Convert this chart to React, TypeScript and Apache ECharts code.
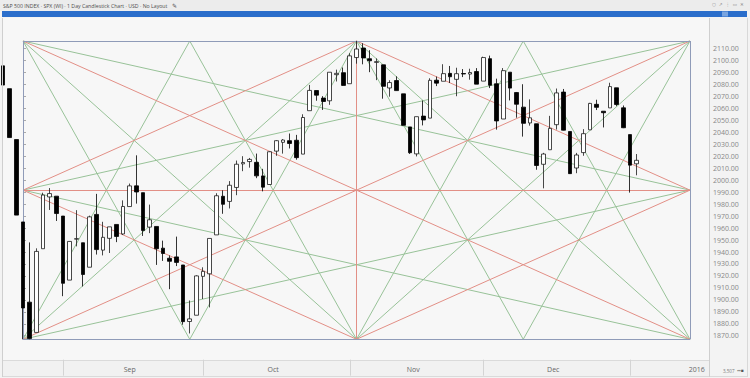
import React, { useEffect, useRef } from "react";
import * as echarts from "echarts";

// S&P 500 daily sessions shown, Aug 19 2015 .. Jan 5 2016
const dates = [
  "2015-08-19", "2015-08-20", "2015-08-21", "2015-08-24", "2015-08-25", "2015-08-26", "2015-08-27", "2015-08-28", "2015-08-31",
  "2015-09-01", "2015-09-02", "2015-09-03", "2015-09-04", "2015-09-08", "2015-09-09", "2015-09-10", "2015-09-11",
  "2015-09-14", "2015-09-15", "2015-09-16", "2015-09-17", "2015-09-18", "2015-09-21", "2015-09-22", "2015-09-23",
  "2015-09-24", "2015-09-25", "2015-09-28", "2015-09-29", "2015-09-30",
  "2015-10-01", "2015-10-02", "2015-10-05", "2015-10-06", "2015-10-07", "2015-10-08", "2015-10-09", "2015-10-12",
  "2015-10-13", "2015-10-14", "2015-10-15", "2015-10-16", "2015-10-19", "2015-10-20", "2015-10-21", "2015-10-22",
  "2015-10-23", "2015-10-26", "2015-10-27", "2015-10-28", "2015-10-29", "2015-10-30",
  "2015-11-02", "2015-11-03", "2015-11-04", "2015-11-05", "2015-11-06", "2015-11-09", "2015-11-10", "2015-11-11",
  "2015-11-12", "2015-11-13", "2015-11-16", "2015-11-17", "2015-11-18", "2015-11-19", "2015-11-20", "2015-11-23",
  "2015-11-24", "2015-11-25", "2015-11-27", "2015-11-30",
  "2015-12-01", "2015-12-02", "2015-12-03", "2015-12-04", "2015-12-07", "2015-12-08", "2015-12-09", "2015-12-10",
  "2015-12-11", "2015-12-14", "2015-12-15", "2015-12-16", "2015-12-17", "2015-12-18", "2015-12-21", "2015-12-22",
  "2015-12-23", "2015-12-24", "2015-12-28", "2015-12-29", "2015-12-30", "2015-12-31",
  "2016-01-04", "2016-01-05",
];
const opens = [
  2095.69, 2076.61, 2034.08, 1965.15, 1898.08, 1872.75, 1942.77, 1986.06, 1986.73,
  1970.09, 1916.52, 1950.79, 1947.76, 1927.3, 1971.45, 1941.59, 1951.45,
  1963.06, 1955.1, 1978.02, 1995.33, 1989.66, 1960.84, 1961.39, 1943.24,
  1934.81, 1935.93, 1929.18, 1881.9, 1887.14,
  1919.65, 1921.77, 1954.33, 1986.63, 1982.34, 1994.01, 2013.73, 2015.65,
  2015.0, 2003.66, 1996.47, 2024.37, 2031.73, 2033.13, 2033.47, 2021.88,
  2058.19, 2075.08, 2068.75, 2066.48, 2088.35, 2090.0,
  2080.76, 2102.63, 2110.6, 2101.68, 2098.6, 2096.56, 2077.19, 2083.41,
  2072.29, 2044.64, 2022.08, 2053.67, 2051.99, 2083.7, 2082.82, 2089.41,
  2084.42, 2089.3, 2088.82, 2090.95,
  2082.93, 2101.71, 2080.71, 2051.24, 2090.42, 2073.39, 2061.17, 2047.93,
  2047.27, 2013.37, 2025.55, 2046.5, 2073.76, 2040.81, 2010.27, 2023.15,
  2042.2, 2063.52, 2057.77, 2060.54, 2077.34, 2060.59,
  2038.2, 2013.78,
];
const highs = [
  2096.17, 2076.61, 2034.08, 1965.15, 1948.04, 1943.09, 1989.6, 1993.48, 1986.73,
  1970.09, 1948.91, 1975.01, 1947.76, 1970.42, 1988.63, 1965.29, 1961.05,
  1963.06, 1983.19, 1997.26, 2020.86, 1989.66, 1979.64, 1961.39, 1949.52,
  1937.17, 1952.89, 1929.18, 1899.48, 1920.53,
  1927.21, 1951.36, 1989.17, 1991.62, 1999.31, 2016.5, 2020.13, 2018.66,
  2022.34, 2009.56, 2024.15, 2033.54, 2034.45, 2039.12, 2037.97, 2055.2,
  2079.74, 2075.14, 2070.37, 2090.35, 2092.52, 2094.32,
  2106.2, 2116.48, 2114.59, 2108.78, 2101.91, 2096.56, 2083.67, 2086.94,
  2072.29, 2044.64, 2053.22, 2066.69, 2085.31, 2086.74, 2097.06, 2095.61,
  2094.12, 2093.0, 2093.29, 2093.81,
  2103.37, 2104.27, 2085.0, 2093.84, 2090.42, 2073.85, 2080.33, 2067.65,
  2047.27, 2022.92, 2053.87, 2076.72, 2076.37, 2040.81, 2022.9, 2042.74,
  2064.73, 2067.36, 2057.77, 2081.56, 2077.34, 2062.54,
  2038.2, 2021.94,
];
const lows = [
  2070.53, 2035.73, 1970.89, 1867.01, 1867.08, 1872.75, 1942.77, 1975.19, 1965.98,
  1903.07, 1916.52, 1944.72, 1911.21, 1927.3, 1937.88, 1937.19, 1939.19,
  1948.27, 1954.3, 1977.93, 1980.48, 1953.45, 1955.8, 1929.22, 1932.57,
  1908.92, 1928.25, 1879.21, 1871.91, 1887.14,
  1900.7, 1893.7, 1954.33, 1971.99, 1976.44, 1987.53, 2007.61, 2010.55,
  2001.78, 1990.73, 1996.47, 2020.46, 2022.31, 2026.61, 2017.22, 2021.88,
  2058.19, 2066.53, 2058.84, 2063.11, 2082.63, 2079.05,
  2080.76, 2097.51, 2096.98, 2090.41, 2083.74, 2068.24, 2069.91, 2074.85,
  2045.66, 2022.02, 2019.94, 2045.9, 2051.99, 2078.76, 2082.82, 2081.39,
  2070.29, 2086.3, 2084.13, 2080.41,
  2082.93, 2077.11, 2042.35, 2051.24, 2066.78, 2052.32, 2036.53, 2045.67,
  2008.8, 1993.26, 2025.55, 2042.43, 2041.66, 2005.33, 2005.93, 2020.49,
  2042.2, 2058.73, 2044.2, 2060.54, 2061.97, 2043.62,
  1989.68, 2004.17,
];
const closes = [
  2079.61, 2035.73, 1970.89, 1893.21, 1867.61, 1940.51, 1987.66, 1988.87, 1972.18,
  1913.85, 1948.86, 1951.13, 1921.22, 1969.41, 1942.04, 1952.29, 1961.05,
  1953.03, 1978.09, 1995.31, 1990.2, 1958.03, 1966.97, 1942.74, 1938.76,
  1932.24, 1931.34, 1881.77, 1884.09, 1920.03,
  1923.82, 1951.36, 1987.05, 1979.92, 1995.83, 2013.43, 2014.89, 2017.46,
  2003.69, 1994.24, 2023.86, 2033.11, 2033.66, 2030.77, 2018.94, 2052.51,
  2075.15, 2071.18, 2065.89, 2090.35, 2089.41, 2079.36,
  2104.05, 2109.79, 2102.31, 2099.93, 2099.2, 2078.58, 2081.72, 2075.0,
  2045.97, 2023.04, 2053.19, 2050.44, 2083.58, 2081.24, 2089.17, 2086.59,
  2089.14, 2088.87, 2090.11, 2080.41,
  2102.63, 2079.51, 2049.62, 2091.69, 2077.07, 2063.59, 2047.62, 2052.23,
  2012.37, 2021.94, 2043.41, 2073.07, 2041.89, 2005.55, 2021.15, 2038.97,
  2064.29, 2060.99, 2056.5, 2078.36, 2063.36, 2043.94,
  2012.66, 2016.71,
];
// session index of the first shown candle (0 = Aug 24, the Gann box low)
const firstSession = -3;

// bottom time axis (session index)
const monthLabels = ["Sep", "Oct", "Nov", "Dec", "2016"];
const monthLabelSessions = [16, 37.5, 58.5, 79.5, 101];
const monthStartSessions = [6, 27, 49, 69, 91];

// right price axis labels
const priceTicks = [
  1870, 1880, 1890, 1900, 1910, 1920, 1930, 1940, 1950, 1960, 1970, 1980, 1990,
  2000, 2010, 2020, 2030, 2040, 2050, 2060, 2070, 2080, 2090, 2100, 2110,
];

// Gann square anchors: Aug 24 low .. twice the distance to the Nov 3 high
const boxStartSession = 0;
const boxEndSession = 100;
const boxLow = 1867.01;
const boxHigh = 2116.48;

// segments in box fractions [timeFrac1, priceFrac1, timeFrac2, priceFrac2]
const redSegments = [
  [0, 1, 1, 0], [0, 0, 1, 1],
  [0, 0.5, 0.5, 1], [0.5, 1, 1, 0.5], [1, 0.5, 0.5, 0], [0.5, 0, 0, 0.5],
  [0, 0.5, 1, 0.5], [0.5, 0, 0.5, 1],
];
const greenSegments = [
  [0, 1, 1, 0.5], [0, 0, 1, 0.5], [1, 1, 0, 0.5], [1, 0, 0, 0.5],
  [0, 1, 0.5, 0], [0, 0, 0.5, 1], [1, 1, 0.5, 0], [1, 0, 0.5, 1],
  [0, 1, 0.25, 0], [0.25, 0, 0.5, 1], [0.5, 1, 0.75, 0], [0.75, 0, 1, 1],
  [0, 0, 0.25, 1], [0.25, 1, 0.5, 0], [0.5, 0, 0.75, 1], [0.75, 1, 1, 0],
];
const boxSegments = [
  [0, 0, 1, 0], [1, 0, 1, 1], [1, 1, 0, 1], [0, 1, 0, 0],
];

const FONT = '"Open Sans", "Noto Sans", sans-serif';

function toCoords(seg: number[]) {
  const t = (f: number) => boxStartSession + f * (boxEndSession - boxStartSession);
  const p = (f: number) => boxLow + f * (boxHigh - boxLow);
  return { coords: [[t(seg[0]), p(seg[1])], [t(seg[2]), p(seg[3])]] };
}

export default function App() {
  const ref = useRef<HTMLDivElement>(null);
  useEffect(() => {
    if (!ref.current) return;
    const chart = echarts.init(ref.current, undefined, { renderer: "svg" });
    const candleData = dates.map((_, i) => [firstSession + i, opens[i], closes[i], lows[i], highs[i]]);

    const gridLeft = 2;
    const gridRight = 41;
    const pxPerUnit = 1.1957;
    const yMin = 1850;
    const yMax = 2140;
    const gridTop = 41 - (yMax - boxHigh) * pxPerUnit;
    const gridBottom = 378 - (339.3 + (boxLow - yMin) * pxPerUnit);

    chart.setOption({
      animation: false,
      backgroundColor: "#f3f3f3",
      grid: { left: gridLeft, right: gridRight, top: gridTop, bottom: gridBottom },
      xAxis: {
        type: "value",
        min: -3.15,
        max: 102.85,
        splitLine: { show: false },
        axisLine: { show: false },
        axisTick: {
          show: true,
          customValues: monthStartSessions,
          length: 16,
          lineStyle: { color: "#d4d4d4", width: 1 },
        },
        axisLabel: {
          customValues: monthLabelSessions,
          formatter: (v: number) => {
            const k = monthLabelSessions.indexOf(v);
            return k >= 0 ? monthLabels[k] : "";
          },
          fontSize: 7,
          color: "#666",
          fontFamily: FONT,
          margin: 6,
        },
      },
      yAxis: {
        type: "value",
        position: "right",
        min: yMin,
        max: yMax,
        interval: 10,
        splitLine: { show: false },
        axisLine: { show: false },
        axisTick: {
          show: true,
          customValues: priceTicks,
          length: 3,
          lineStyle: { color: "#aaa" },
        },
        axisLabel: {
          customValues: priceTicks,
          formatter: (v: number) => (v >= 1870 && v <= 2110 ? v.toFixed(2) : ""),
          fontSize: 7,
          color: "#888",
          fontFamily: FONT,
          margin: 4,
        },
      },
      series: [
        {
          type: "lines",
          coordinateSystem: "cartesian2d",
          silent: true,
          z: 1,
          data: greenSegments.map(toCoords),
          lineStyle: { color: "#98c298", width: 1, opacity: 1 },
        },
        {
          type: "lines",
          coordinateSystem: "cartesian2d",
          silent: true,
          z: 1,
          data: redSegments.map(toCoords),
          lineStyle: { color: "#e28f86", width: 1, opacity: 1 },
        },
        {
          type: "lines",
          coordinateSystem: "cartesian2d",
          silent: true,
          z: 1,
          data: boxSegments.map(toCoords),
          lineStyle: { color: "#8f9bb8", width: 1, opacity: 1 },
        },
        {
          type: "candlestick",
          data: candleData,
          barWidth: 4.2,
          z: 3,
          itemStyle: {
            color: "#ffffff",
            color0: "#000000",
            borderColor: "#1a1a1a",
            borderColor0: "#000000",
            borderWidth: 0.8,
          },
        },
      ],
      graphic: [
        { type: "rect", z: -20, shape: { x: 2, y: 18, width: 707, height: 342 }, style: { fill: "#f7f7f7" } },
        { type: "rect", z: -15, shape: { x: 2, y: 360, width: 707, height: 16 }, style: { fill: "#f1f1f1" } },
        { type: "line", z: -14, shape: { x1: 2, y1: 360.5, x2: 709, y2: 360.5 }, style: { stroke: "#dadada", lineWidth: 1 } },
        { type: "line", z: -14, shape: { x1: 2, y1: 376.5, x2: 748, y2: 376.5 }, style: { stroke: "#dadada", lineWidth: 1 } },
        { type: "line", z: 50, shape: { x1: 2.5, y1: 18, x2: 2.5, y2: 377 }, style: { stroke: "#cfcfcf", lineWidth: 1 } },
        { type: "line", z: 50, shape: { x1: 709.5, y1: 18, x2: 709.5, y2: 377 }, style: { stroke: "#cfcfcf", lineWidth: 1 } },
        { type: "line", z: 50, shape: { x1: 747.5, y1: 18, x2: 747.5, y2: 377 }, style: { stroke: "#d8d8d8", lineWidth: 1 } },
        { type: "rect", z: 50, shape: { x: 0, y: 0, width: 750, height: 10.5 }, style: { fill: "#ececec" } },
        {
          type: "text", z: 51, x: 3, y: 5.5,
          style: {
            text: "S&P 500 INDEX · SPX (WI) · 1 Day Candlestick Chart · USD · No Layout",
            fontSize: 5.2, fill: "#4d4d4d", fontFamily: FONT, verticalAlign: "middle",
          },
        },
        {
          type: "text", z: 51, x: 172, y: 5.5,
          style: { text: "✎", fontSize: 6, fill: "#555", fontFamily: "DejaVu Sans", verticalAlign: "middle" },
        },
        {
          type: "text", z: 51, x: 712, y: 4.5,
          style: { text: "○  ↗  ⋮  ▭  ✕", fontSize: 4.5, fill: "#8a8a8a", fontFamily: "DejaVu Sans", verticalAlign: "middle" },
        },
        { type: "rect", z: 50, shape: { x: 2, y: 11, width: 745, height: 6 }, style: { fill: "#2b6ecb" } },
        { type: "rect", z: 51, shape: { x: 722, y: 11.5, width: 6, height: 5 }, style: { fill: "#7aa5e0" } },
        {
          type: "text", z: 51, x: 723, y: 370.5,
          style: { text: "3,507", fontSize: 4.5, fill: "#7a7a7a", fontFamily: FONT, verticalAlign: "middle" },
        },
        {
          type: "text", z: 51, x: 737, y: 370.5,
          style: { text: "⇔▪", fontSize: 4.5, fill: "#555", fontFamily: "DejaVu Sans", verticalAlign: "middle" },
        },
      ],
    });
    return () => chart.dispose();
  }, []);
  return (
    <div
      ref={ref}
      style={{ position: "fixed", left: 0, top: 0, width: 750, height: 378 }}
    />
  );
}
